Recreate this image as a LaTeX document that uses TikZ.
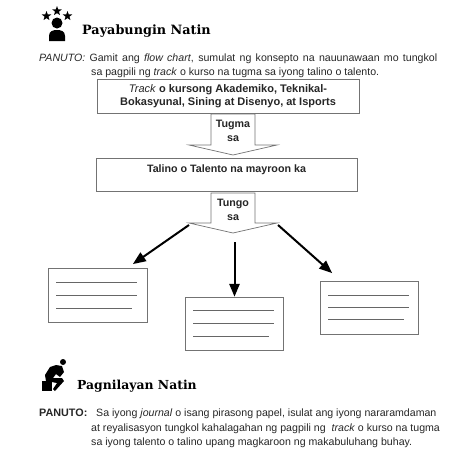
\documentclass[tikz,border=0pt]{standalone}
\usepackage{fontspec}
\setmainfont{Liberation Sans}
\newfontfamily\slabfont{DejaVu Serif}
\usetikzlibrary{positioning}
\usetikzlibrary{arrows}
\usetikzlibrary{shapes.geometric}
\tikzset{x=1pt, y=-1pt,
flowbox/.style={ % Boxes of the flow chart
draw=black!55,
line width=0.9pt,
fill=white,
inner sep=0pt},
blockarrow/.style={ % Hollow arrows between the boxes
draw=black!55,
line width=0.7pt,
fill=white,
line join=miter},
bodytext/.style={ % One line of the instructions
anchor=base west,
inner sep=0pt,
font=\fontsize{10.6}{12}\selectfont,
text=black!85},
boxtext/.style={
align=center,
inner sep=0pt,
font=\fontsize{10.7}{13.5}\selectfont\bfseries,
text=black!85},
heading/.style={
anchor=base west,
inner sep=0pt,
font=\fontsize{12.8}{14}\slabfont\bfseries},
starmark/.style={ % Stars over the person
star,
star points=5,
star point ratio=2.4,
fill=black,
inner sep=0pt,
minimum size=10pt},
bigarrow/.style={
-triangle 45,
line width=2pt}}

\begin{document}
\begin{tikzpicture}
\useasboundingbox (0,0) rectangle (474,453);
% icon of the first heading
\node[starmark] (starleft) at (46.5,16) {};
\node[starmark] (starmid) at (57,11) {};
\node[starmark] (starright) at (67.5,16) {};
\fill (57,23) circle (5.5);
\fill (49,41) -- (49,36) .. controls (49,31) and (53,30) .. (57,30)
  .. controls (61,30) and (65,31) .. (65,36) -- (65,41) -- cycle;
\node[heading] (titleone) at (82,34) {Payabungin Natin};
% instructions
\node[bodytext] (panutoone) at (39,61) {\makebox[398pt][s]{\textit{PANUTO:} Gamit ang \textit{flow chart}, sumulat ng konsepto na nauunawaan mo tungkol}};
\node[bodytext] (panutotwo) at (91,75) {sa pagpili ng \textit{track} o kurso na tugma sa iyong talino o talento.};
% flow chart
\node[flowbox, minimum width=262pt, minimum height=34pt] (trackbox) at (228,96) {};
\node[boxtext, font=\fontsize{11}{13.5}\selectfont\bfseries] (tracktext) at (trackbox) {\textit{\mdseries Track} o kursong Akademiko, Teknikal-\\Bokasyunal, Sining at Disenyo, at Isports};
\draw[blockarrow] (211,114) -- (211,145) -- (189,145) -- (233,155) -- (277,145) -- (255,145) -- (255,114) -- cycle;
\node[boxtext] (tugma) at (233,131) {Tugma\\sa};
\node[flowbox, minimum width=261pt, minimum height=33pt] (talinobox) at (226.5,174.5) {};
\node[boxtext, below=6.5pt of talinobox.north] (talinotext) {Talino o Talento na mayroon ka};
\draw[blockarrow] (211,193) -- (211,223) -- (189,223) -- (233,233) -- (277,223) -- (255,223) -- (255,193) -- cycle;
\node[boxtext] (tungo) at (233,210) {Tungo\\sa};
\node[flowbox, minimum width=99pt, minimum height=54pt] (blankleft) at (97.5,295) {};
\node[flowbox, minimum width=98pt, minimum height=53pt] (blankmid) at (234.5,323.5) {};
\node[flowbox, minimum width=98pt, minimum height=53pt] (blankright) at (369,307.5) {};
% lines inside the blank boxes
\foreach \lx/\ly/\lw in {56/282/81, 56/295/81, 56/308/76,
  193/310/81, 193/323/81, 193/336/76,
  328/295/81, 328/307/81, 328/319/76}
  \draw[black!60, line width=0.8pt] (\lx,\ly) -- ++(\lw,0);
\coordinate (wingleft) at (189,225);
\coordinate (wingmid) at (234.5,242);
\coordinate (wingright) at (278,225);
\coordinate (endleft) at (133,264);
\coordinate (endright) at (332,273);
\draw[bigarrow] (wingleft) -- (endleft);
\draw[bigarrow] (wingmid) -- (blankmid.north);
\draw[bigarrow] (wingright) -- (endright);
% icon of the second heading
\fill (63,362) circle (3);
\fill (42,381) rectangle (52,391);
\fill (50,367) -- (56,365) -- (62,366) -- (64,372) -- (60,377) -- (56,374) -- (53,378)
  -- (62,378) -- (64,381) -- (55,391) -- (53,389) -- (57,383) -- (46,381) -- (45,375) -- cycle;
\node[heading, font=\fontsize{12.4}{14}\slabfont\bfseries] (titletwo) at (77,389) {Pagnilayan Natin};
\node[bodytext, font=\fontsize{10.8}{12}\selectfont\bfseries] (panutolabel) at (39,416) {PANUTO:};
\node[bodytext] (reflectone) at (96,416) {Sa iyong \textit{journal} o isang pirasong papel, isulat ang iyong nararamdaman};
\node[bodytext] (reflecttwo) at (91,431) {at reyalisasyon tungkol kahalagahan ng pagpili ng \ \textit{track} o kurso na tugma};
\node[bodytext] (reflectthree) at (91,445) {sa iyong talento o talino upang magkaroon ng makabuluhang buhay.};
\end{tikzpicture}
\end{document}
